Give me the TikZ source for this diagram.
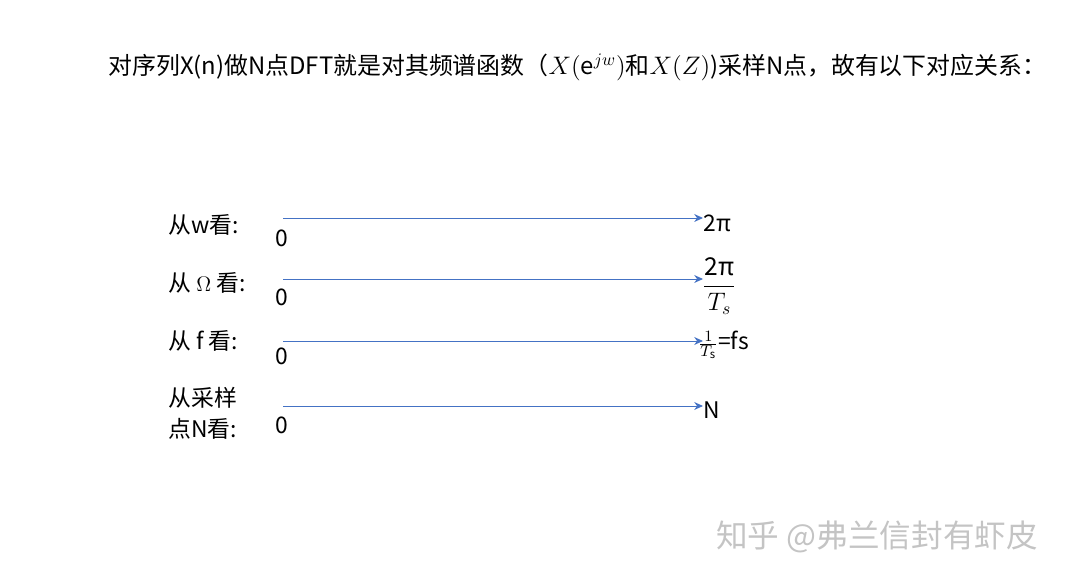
\documentclass[tikz,border=0pt]{standalone}
\usepackage{fontspec}
\setmainfont{Noto Sans CJK SC}
\usetikzlibrary{arrows.meta}
\definecolor{axisblue}{HTML}{4472C4}
\definecolor{markgray}{HTML}{C4C4C4}

\begin{document}
\begin{tikzpicture}[x=0.02cm,y=-0.02cm,
  axis/.style = {draw=axisblue,line width=0.5pt,-{Stealth[length=5pt,width=4.5pt]}},
  lbl/.style = {anchor=west,inner sep=0pt,font=\fontsize{13}{17.5}\selectfont},
  zero/.style = {anchor=west,inner sep=0pt,font=\fontsize{13}{15}\selectfont}]
\useasboundingbox (0,0) rectangle (1067,580);

\node[lbl,font=\fontsize{13.6}{16}\selectfont] (title) at (108,67) {对序列X(n)做N点DFT就是对其频谱函数（$X(\mathrm{e}^{jw})$和$X(Z)$)采样N点，故有以下对应关系：};

% left labels
\node[lbl] (lw) at (168,225) {从w看:};
\node[lbl] (lo) at (168,283) {从 $\Omega$ 看:};
\node[lbl] (lf) at (168,341) {从 f 看:};
\node[lbl,align=left] (ln) at (168,413) {从采样\\点N看:};

% axes
\coordinate (w0) at (283,218);
\coordinate (w1) at (703,218);
\coordinate (o0) at (283,279);
\coordinate (o1) at (703,279);
\coordinate (f0) at (283,341);
\coordinate (f1) at (703,341);
\coordinate (n0) at (283,406);
\coordinate (n1) at (703,406);

\draw[axis] (w0) -- (w1);
\draw[axis] (o0) -- (o1);
\draw[axis] (f0) -- (f1);
\draw[axis] (n0) -- (n1);

% zeros
\node[zero] (zw) at (275,238) {0};
\node[zero] (zo) at (275,297) {0};
\node[zero] (zf) at (275,356) {0};
\node[zero] (zn) at (275,425) {0};

% right ends
\node[zero] (ew) at (703,223) {2π};
\node[zero,font=\fontsize{14}{16}\selectfont] (eo) at (702,286) {$\displaystyle\frac{\mbox{2π}}{T_s}$};
\node[zero] (ef) at (698,345) {$\frac{1}{T_{\mathrm{s}}}$=fs};
\node[zero] (en) at (703,410) {N};

\node[anchor=west,inner sep=0pt,text=markgray,font=\fontsize{18}{20}\selectfont] (mark) at (716,537) {知乎 @弗兰信封有虾皮};
\end{tikzpicture}
\end{document}
